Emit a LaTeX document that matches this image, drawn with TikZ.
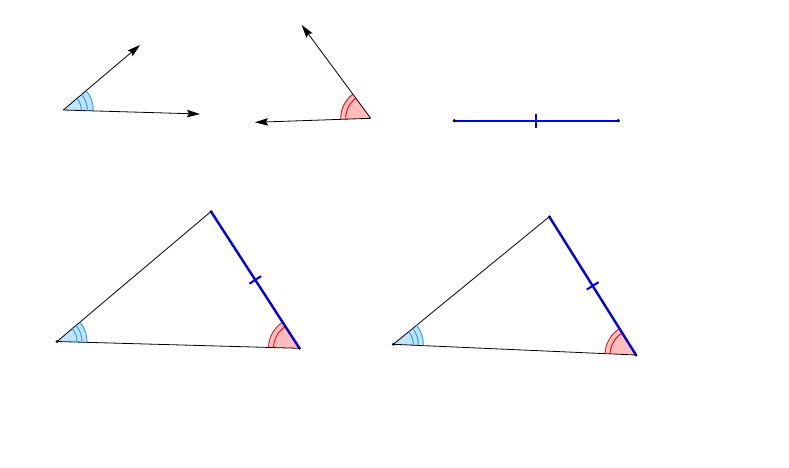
\documentclass[tikz,border=0pt]{standalone}
\usetikzlibrary{arrows.meta,calc}
\definecolor{angblue}{RGB}{40,150,255}
\definecolor{angbluefill}{RGB}{190,228,255}
\definecolor{angred}{RGB}{255,0,0}
\definecolor{angredfill}{RGB}{255,190,190}
\definecolor{segblue}{RGB}{0,0,235}
\newcommand{\angsector}[5]{%
  \path let \p1=(#1), \p2=(#2), \p3=(#3),
    \n1={atan2(\y2-\y1,\x2-\x1)}, \n2={atan2(\y3-\y1,\x3-\x1)} in
    [#5] (#1) -- ++(\n1:#4) arc[start angle=\n1, end angle={\n2+360*(\n2<\n1)}, radius=#4] -- cycle;}
\newcommand{\angarc}[5]{%
  \path let \p1=(#1), \p2=(#2), \p3=(#3),
    \n1={atan2(\y2-\y1,\x2-\x1)}, \n2={atan2(\y3-\y1,\x3-\x1)} in
    [#5] ($(#1)+(\n1:#4)$) arc[start angle=\n1, end angle={\n2+360*(\n2<\n1)}, radius=#4];}
\tikzset{
  thinline/.style={line width=0.8pt, black},
  arrline/.style={thinline, -{Stealth[length=13pt,width=7.5pt,inset=2pt]}},
  segline/.style={line width=2.4pt, segblue},
  tickline/.style={line width=2pt, segblue},
  bluefill/.style={fill=angbluefill},
  redfill/.style={fill=angredfill},
  bluearc/.style={draw=angblue, line width=0.9pt},
  redarc/.style={draw=angred, line width=0.9pt},
  vdot/.style={fill=black}
}
\begin{document}
\begin{tikzpicture}[x=1pt,y=-1pt]
\useasboundingbox (0,0) rectangle (789,467);
% top angle 1
\coordinate (V1) at (63.3,110);
\coordinate (T1a) at (140,45);
\coordinate (T1b) at (200,114);
\angsector{V1}{T1b}{T1a}{30pt}{bluefill}
\draw[arrline] (V1) -- (T1a);
\draw[arrline] (V1) -- (T1b);
\foreach \r in {18,24,30}{\angarc{V1}{T1b}{T1a}{\r pt}{bluearc}}
% top angle 2
\coordinate (V2) at (370.7,118.3);
\coordinate (T2a) at (301.7,25);
\coordinate (T2b) at (255,122.3);
\angsector{V2}{T2a}{T2b}{30pt}{redfill}
\draw[arrline] (V2) -- (T2a);
\draw[arrline] (V2) -- (T2b);
\foreach \r in {25,30}{\angarc{V2}{T2a}{T2b}{\r pt}{redarc}}
% segment
\coordinate (S1) at (454.3,120.7);
\coordinate (S2) at (618.3,120.7);
\draw[segline] (S1) -- (S2);
\coordinate (SM) at ($(S1)!0.5!(S2)$);
\draw[tickline] ($(SM)!7pt!90:(S2)$) -- ($(SM)!7pt!-90:(S2)$);
\fill[vdot] (S1) circle (1.8pt);
\fill[vdot] (S2) circle (1.8pt);
% triangles
\foreach \k/\ax/\ay/\bx/\by/\cx/\cy in {1/57/341.5/299.5/348.3/211/211.5, 2/393.3/344.3/636/355/549.3/216.7}{
  \coordinate (A\k) at (\ax,\ay);
  \coordinate (B\k) at (\bx,\by);
  \coordinate (C\k) at (\cx,\cy);
  \angsector{A\k}{B\k}{C\k}{30pt}{bluefill}
  \angsector{B\k}{C\k}{A\k}{30pt}{redfill}
  \draw[thinline] (A\k) -- (B\k);
  \draw[thinline] (A\k) -- (C\k);
  \foreach \r in {20,25,30}{\angarc{A\k}{B\k}{C\k}{\r pt}{bluearc}}
  \foreach \r in {26,31}{\angarc{B\k}{C\k}{A\k}{\r pt}{redarc}}
  \draw[segline] (B\k) -- (C\k);
  \coordinate (M\k) at ($(B\k)!0.5!(C\k)$);
  \draw[tickline] ($(M\k)!7pt!90:(C\k)$) -- ($(M\k)!7pt!-90:(C\k)$);
  \fill[vdot] (A\k) circle (1.5pt);
  \fill[vdot] (B\k) circle (1.5pt);
  \fill[vdot] (C\k) circle (1.5pt);
}
\end{tikzpicture}
\end{document}
